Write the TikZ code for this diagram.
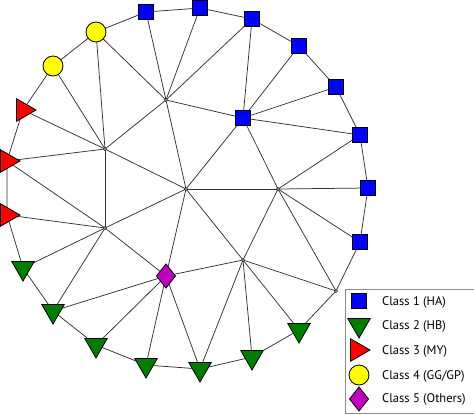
\documentclass[tikz,border=0pt]{standalone}
\usepackage{fontspec}
\setmainfont{PT Sans}
\usetikzlibrary{shapes.geometric,backgrounds}
\definecolor{edgec}{RGB}{50,50,50}
\definecolor{cblue}{RGB}{0,0,255}
\definecolor{cgreen}{RGB}{0,125,0}
\definecolor{cred}{RGB}{255,0,0}
\definecolor{cyellow}{RGB}{255,255,0}
\definecolor{cmag}{RGB}{190,0,190}
\definecolor{legc}{RGB}{140,140,140}
\begin{document}
\begin{tikzpicture}[x=1pt,y=-1pt,
  base/.style={draw=black,line width=0.8pt,inner sep=0pt,outer sep=0pt},
  sq/.style={base,rectangle,fill=cblue,minimum size=15pt},
  dtri/.style={base,regular polygon,regular polygon sides=3,shape border rotate=180,fill=cgreen,minimum size=26pt},
  rtri/.style={base,regular polygon,regular polygon sides=3,shape border rotate=-90,fill=cred,minimum size=26pt},
  ycirc/.style={base,circle,fill=cyellow,minimum size=20pt},
  dia/.style={base,diamond,fill=cmag,minimum width=19pt,minimum height=24pt},
  hub/.style={circle,draw=black,fill=white,minimum size=3pt,inner sep=0pt,line width=0.4pt},
  edge/.style={draw=edgec,line width=0.75pt},
  legtext/.style={anchor=west,inner sep=0pt,font=\fontsize{12.5}{14}\selectfont}
]
\useasboundingbox (0,0) rectangle (474,415);
% outer nodes
\node[sq] (S1) at (146,12) {};
\node[sq] (S2) at (200,8) {};
\node[sq] (S3) at (252,19) {};
\node[sq] (S4) at (299,46) {};
\node[sq] (S5) at (336,87) {};
\node[sq] (S6) at (360,135) {};
\node[sq] (S7) at (368,188) {};
\node[sq] (S8) at (360,242) {};
\node[sq] (S9) at (243,118) {};
\node[dtri] (G1) at (23,268) {};
\node[dtri] (G2) at (53,311) {};
\node[dtri] (G3) at (96,345) {};
\node[dtri] (G4) at (146,365) {};
\node[dtri] (G5) at (200,369) {};
\node[dtri] (G6) at (252,357) {};
\node[dtri] (G7) at (299,330) {};
\node[rtri] (R1) at (23,110) {};
\node[rtri] (R2) at (7,161) {};
\node[rtri] (R3) at (7,215) {};
\node[ycirc] (Y1) at (53,66) {};
\node[ycirc] (Y2) at (96,32) {};
\node[dia] (X) at (166,276) {};
% inner hubs
\node[hub] (A) at (166,100) {};
\node[hub] (B) at (105,149) {};
\node[hub] (C) at (186,189) {};
\node[hub] (D) at (278,189) {};
\node[hub] (E) at (105,228) {};
\node[hub] (F) at (243,260) {};
\node[hub] (H) at (336,291) {};
\begin{scope}[on background layer]
\draw[edge] (S1.center) -- (S2.center) -- (S3.center) -- (S4.center) -- (S5.center) -- (S6.center) -- (S7.center) -- (S8.center) -- (H.center) -- (G7.center) -- (G6.center) -- (G5.center) -- (G4.center) -- (G3.center) -- (G2.center) -- (G1.center) -- (R3.center) -- (R2.center) -- (R1.center) -- (Y1.center) -- (Y2.center) -- (S1.center);
\foreach \n in {Y2,S1,S2,S3,S9,C,B} \draw[edge] (A.center) -- (\n.center);
\foreach \n in {Y2,Y1,R1,R2,C,E} \draw[edge] (B.center) -- (\n.center);
\foreach \n in {S9,D,E,X,F} \draw[edge] (C.center) -- (\n.center);
\foreach \n in {S9,S6,S7,S8,H,F} \draw[edge] (D.center) -- (\n.center);
\foreach \n in {R2,R3,G1,G2,X} \draw[edge] (E.center) -- (\n.center);
\foreach \n in {X,H,G5,G6,G7} \draw[edge] (F.center) -- (\n.center);
\foreach \n in {S3,S4,S5,S6} \draw[edge] (S9.center) -- (\n.center);
\foreach \n in {G2,G3,G4,G5} \draw[edge] (X.center) -- (\n.center);
\end{scope}
% legend
\coordinate (L1) at (476,289);
\coordinate (L2) at (345,289);
\coordinate (L3) at (345,413);
\coordinate (L4) at (476,413);
\draw[legc,line width=0.8pt] (L1) -- (L2) -- (L3) -- (L4);
\node[sq] (k1) at (359,301) {};
\node[dtri] (k2) at (359,325) {};
\node[rtri] (k3) at (357,350) {};
\node[ycirc] (k4) at (359,375) {};
\node[dia] (k5) at (359,399) {};
\node[legtext] (t1) at (382,302) {Class 1 (HA)};
\node[legtext] (t2) at (382,326) {Class 2 (HB)};
\node[legtext] (t3) at (382,351) {Class 3 (MY)};
\node[legtext] (t4) at (382,376) {Class 4 (GG/GP)};
\node[legtext] (t5) at (382,399) {Class 5 (Others)};
\end{tikzpicture}
\end{document}
